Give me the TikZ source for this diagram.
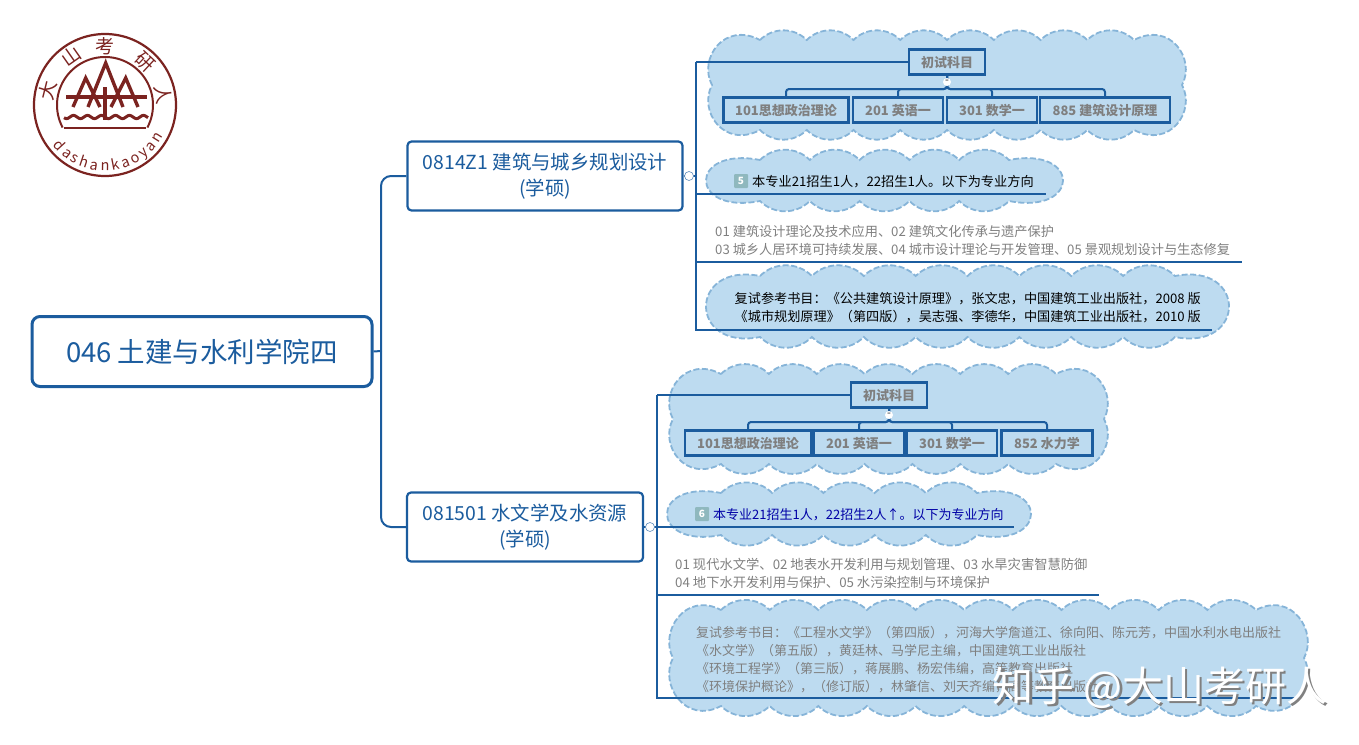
\documentclass[tikz,border=0pt]{standalone}
\usepackage{fontspec}
\setmainfont{Noto Sans CJK SC}
\usetikzlibrary{decorations.text}
\definecolor{mapblue}{HTML}{1B5C9E}
\definecolor{cloudfill}{HTML}{BDDBF0}
\definecolor{clouddash}{HTML}{86B4D8}
\definecolor{greytext}{HTML}{7F7F7F}
\definecolor{logored}{HTML}{7B2320}
\definecolor{badgefill}{HTML}{8FB8BE}
\newcommand{\fs}[1]{\fontsize{#1}{#1}\selectfont}
\tikzset{
    branch/.style={draw=mapblue, line width=2pt},
    rootbox/.style={draw=mapblue, line width=3pt, rounded corners=8pt, fill=white, text=mapblue, minimum width=340pt, minimum height=70pt, font=\fs{27.5}},
    majorbox/.style={draw=mapblue, line width=2.2pt, rounded corners=4pt, fill=white, text=mapblue, align=center, font=\fontsize{19.4}{26.5}\selectfont, minimum height=69pt},
    subjectbox/.style={draw=mapblue, line width=2.2pt, fill=cloudfill, text=greytext, font=\bfseries\fs{13}, minimum height=25pt, inner sep=0pt, text height=12pt, text depth=1pt},
    foldmark/.style={circle, draw=mapblue!70, fill=white, line width=.6pt, minimum size=9pt, inner sep=0pt},
    minusmark/.style={circle, fill=white, minimum size=8pt, inner sep=0pt, text=greytext, font=\bfseries\fs{10}},
    badge/.style={fill=badgefill, text=white, rounded corners=1pt, minimum size=14pt, inner sep=0pt, font=\bfseries\fs{10}},
    linetext/.style={anchor=west, inner sep=0pt},
    blocktext/.style={inner sep=0pt},
    cloudline/.style={draw=clouddash, fill=cloudfill, line width=1.8pt, dash pattern=on 6pt off 2.5pt},
}
\newcommand{\cloudflat}[5]{
    \pgfmathsetmacro{\cw}{(#3-#1-108)/#5}
    \draw[cloudline](#1+54, #2+10)foreach\i in{1,...,#5}{to[bend left=45](#1+54+\i*\cw, #2+10)}
    ..controls(#3+18, #2-4)and(#3+18, #4+4)..(#3-54, #4-10)
    foreach\i in{1,...,#5}{to[bend left=45](#3-54-\i*\cw, #4-10)}
    ..controls(#1-18, #4+4)and(#1-18, #2-4)..(#1+54, #2+10);
}
\newcommand{\cloudtall}[5]{
    \pgfmathsetmacro{\cw}{(#3-#1-108)/#5}
    \draw[cloudline](#1+54, #2+10)foreach\i in{1,...,#5}{to[bend left=45](#1+54+\i*\cw, #2+10)}
    ..controls(#3-18, #2-9)and(#3+8, #2/2+#4/2-26)..(#3-6, #2/2+#4/2)
    ..controls(#3+8, #2/2+#4/2+26)and(#3-18, #4+9)..(#3-54, #4-10)
    foreach\i in{1,...,#5}{to[bend left=45](#3-54-\i*\cw, #4-10)}
    ..controls(#1+18, #4+9)and(#1-8, #2/2+#4/2+26)..(#1+6, #2/2+#4/2)
    ..controls(#1-8, #2/2+#4/2-26)and(#1+18, #2-9)..(#1+54, #2+10);
}
\begin{document}
\begin{tikzpicture}[x=1pt, y=-1pt]
    \useasboundingbox(0, 0)rectangle(1359, 744);
    \cloudtall{706}{30}{1188}{140}{8}
    \cloudflat{706}{150}{1063}{211}{5}
    \cloudflat{706}{266}{1229}{347}{8}
    \cloudtall{667}{364}{1110}{474}{7}
    \cloudflat{667}{483}{1031}{545}{5}
    \cloudtall{667}{600}{1310}{716}{11}
    \node[rootbox](root)at(202, 351.5){046 土建与水利学院四};
    \node[majorbox, minimum width=275pt](archi)at(545, 176){0814Z1 建筑与城乡规划设计\\(学硕)};
    \node[majorbox, minimum width=236pt](water)at(525, 527){081501 水文学及水资源\\(学硕)};
    \node[subjectbox, minimum width=76pt](archifirst)at(947, 62){初试科目};
    \node[subjectbox, minimum width=125pt](archia)at(786, 110){101思想政治理论};
    \node[subjectbox, minimum width=90pt](archib)at(898, 110){201 英语一};
    \node[subjectbox, minimum width=90pt](archic)at(992, 110){301 数学一};
    \node[subjectbox, minimum width=130pt](archid)at(1105, 110){885 建筑设计原理};
    \node[subjectbox, minimum width=76pt](waterfirst)at(889, 395){初试科目};
    \node[subjectbox, minimum width=126pt](watera)at(748, 443){101思想政治理论};
    \node[subjectbox, minimum width=91pt](waterb)at(859, 443){201 英语一};
    \node[subjectbox, minimum width=90pt](waterc)at(952, 443){301 数学一};
    \node[subjectbox, minimum width=91pt](waterd)at(1047, 443){852 水力学};
    \node[badge](archicount)at(741, 181){5};
    \node[linetext, font=\fs{13.2}](archiquota)at(752, 182){本专业21招生1人，22招生1人。以下为专业方向};
    \node[badge](watercount)at(702, 514){6};
    \node[linetext, text=blue!65!black, font=\fs{13}](waterquota)at(713, 515){本专业21招生1人，22招生2人↑。以下为专业方向};
    \node[blocktext, anchor=west, align=left, text=greytext, font=\fontsize{13.2}{18}\selectfont](archidirs)at(715, 240){01 建筑设计理论及技术应用、02 建筑文化传承与遗产保护\\03 城乡人居环境可持续发展、04 城市设计理论与开发管理、05 景观规划设计与生态修复};
    \node[blocktext, anchor=east, align=right, font=\fontsize{13.15}{18}\selectfont](archibooks)at(1201, 308){复试参考书目：《公共建筑设计原理》，张文忠，中国建筑工业出版社，2008 版\\《城市规划原理》（第四版），吴志强、李德华，中国建筑工业出版社，2010 版};
    \node[blocktext, anchor=west, align=left, text=greytext, font=\fontsize{13.3}{18}\selectfont](waterdirs)at(675, 573){01 现代水文学、02 地表水开发利用与规划管理、03 水旱灾害智慧防御\\04 地下水开发利用与保护、05 水污染控制与环境保护};
    \node[blocktext, anchor=west, align=left, text=greytext, font=\fontsize{13}{18}\selectfont](waterbooks)at(696, 660){复试参考书目：《工程水文学》（第四版），河海大学詹道江、徐向阳、陈元芳，中国水利水电出版社\\《水文学》（第五版），黄廷林、马学尼主编，中国建筑工业出版社\\《环境工程学》（第三版），蒋展鹏、杨宏伟编，高等教育出版社\\《环境保护概论》，（修订版），林肇信、刘天齐编，高等教育出版社};
    \coordinate(stem)at(381, 351);
    \coordinate(architop)at(696, 62);
    \coordinate(archiquotaa)at(696, 194);
    \coordinate(archiquotab)at(1046, 194);
    \coordinate(archidirsa)at(696, 262);
    \coordinate(archidirsb)at(1242, 262);
    \coordinate(archibooksa)at(696, 330);
    \coordinate(archibooksb)at(1212, 330);
    \coordinate(watertop)at(657, 395);
    \coordinate(waterquotaa)at(657, 527);
    \coordinate(waterquotab)at(1014, 527);
    \coordinate(waterdirsa)at(657, 595);
    \coordinate(waterdirsb)at(1099, 595);
    \coordinate(waterbooksa)at(657, 698);
    \coordinate(waterbooksb)at(1300, 698);
    \draw[branch](root.east)--(stem);
    \draw[branch, rounded corners=10pt](stem)|-(archi.west);
    \draw[branch, rounded corners=10pt](stem)|-(water.west);
    \draw[branch](architop)--(archibooksa)--(archibooksb);
    \draw[branch](architop)--(archifirst.west);
    \draw[branch](archiquotaa)--(archiquotab);
    \draw[branch](archidirsa)--(archidirsb);
    \draw[branch](archi.east)--(archi.east-|architop);
    \draw[branch](watertop)--(waterbooksa)--(waterbooksb);
    \draw[branch](watertop)--(waterfirst.west);
    \draw[branch](waterquotaa)--(waterquotab);
    \draw[branch](waterdirsa)--(waterdirsb);
    \draw[branch](water.east)--(water.east-|watertop);
    \foreach\sub in{archia, archib, archic, archid}{
        \draw[branch, rounded corners=3pt](archifirst.south)|-(947, 89)-|(\sub.north);
    }
    \foreach\sub in{watera, waterb, waterc, waterd}{
        \draw[branch, rounded corners=3pt](waterfirst.south)|-(889, 422)-|(\sub.north);
    }
    \node[foldmark](archifold)at(689, 176){};
    \node[foldmark](waterfold)at(650, 527){};
    \node[minusmark](archiminus)at(947, 82){-};
    \node[minusmark](waterminus)at(889, 415){-};
    \draw[logored, line width=2.2pt](105, 105)circle[radius=71pt];
    \draw[logored, line width=2pt, domain=-28:208, samples=60]plot({105+48*cos(\x)}, {105-48*sin(\x)});
    \draw[logored, line width=1.6pt](64, 128)--(146, 128);
    \foreach\ch/\ang in{大/166, 山/125, 考/90, 研/47, 人/10}{
        \node[text=logored, rotate=\ang-90, inner sep=0pt, font=\fs{19}]at({105+59*cos(\ang)}, {105-59*sin(\ang)}){\ch};
    }
    \path[decorate, decoration={text along path, text align=fit to path, text={|\fs{14.5}\color{logored}|dashankaoyan}}]plot[domain=218:332, samples=40]({105+66*cos(\x)}, {105-66*sin(\x)});
    \draw[logored, line width=3.4pt](73, 107)--(85.7, 78)--(100, 107);
    \draw[logored, line width=3.4pt](88, 107)--(105.7, 63)--(123, 107);
    \draw[logored, line width=3.4pt](111, 107)--(125.7, 78)--(138, 107);
    \draw[logored, line width=4pt](66, 97)--(147, 97);
    \draw[logored, line width=4pt](105, 87)--(105, 120);
    \draw[logored, line width=3pt, domain=64:148, samples=90]plot(\x, {117-1.6*sin(\x/14*360)});
    \node[text=gray, font=\fs{41}](shadowmark)at(1162.5, 690){知乎 @大山考研人};
    \node[text=white, font=\fs{41}](watermark)at(1160, 688){知乎 @大山考研人};
\end{tikzpicture}
\end{document}
